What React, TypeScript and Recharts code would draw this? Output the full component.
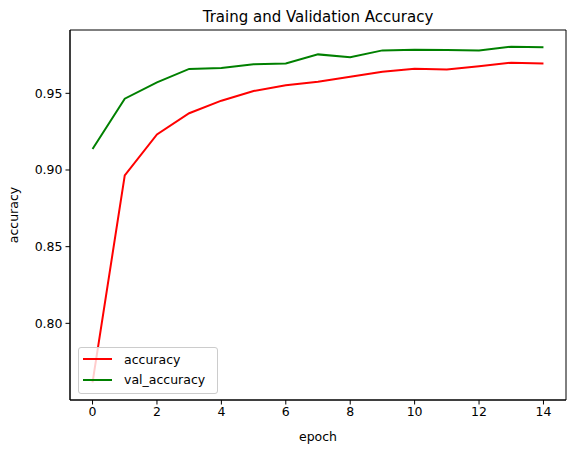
import React from "react";
import { Line, LineChart, ReferenceArea, XAxis, YAxis } from "recharts";

const epochs = [0, 1, 2, 3, 4, 5, 6, 7, 8, 9, 10, 11, 12, 13, 14];
const accuracy = [0.7615, 0.8965, 0.9232, 0.937, 0.9452, 0.9515, 0.9552, 0.9576, 0.9608, 0.9641, 0.966, 0.9656, 0.9676, 0.97, 0.9695];
const valAccuracy = [0.9137, 0.9465, 0.9572, 0.9659, 0.9665, 0.969, 0.9695, 0.9754, 0.9735, 0.978, 0.9784, 0.9782, 0.978, 0.9804, 0.98];
const xTicks = [0, 2, 4, 6, 8, 10, 12, 14];
const yTicks = [0.8, 0.85, 0.9, 0.95];

const X_DOMAIN: [number, number] = [-0.7, 14.7];
const Y_DOMAIN: [number, number] = [0.75, 0.9913];

const FONT = "'DejaVu Sans', sans-serif";
const tickStyle = { fontSize: 12.5, fill: "#000", fontFamily: FONT };

const data = epochs.map((epoch, i) => ({
  epoch,
  accuracy: accuracy[i],
  val_accuracy: valAccuracy[i],
}));

const legendItems = [
  { name: "accuracy", color: "#ff0000" },
  { name: "val_accuracy", color: "#008000" },
];

function LegendBox() {
  return (
    <div
      style={{
        position: "absolute",
        left: 78,
        top: 347,
        width: 140,
        height: 47,
        border: "1px solid #cccccc",
        borderRadius: 3,
        background: "rgba(255,255,255,0.8)",
        boxSizing: "border-box",
        fontFamily: FONT,
        fontSize: 12.5,
        paddingTop: 1,
      }}
    >
      {legendItems.map((it) => (
        <div key={it.name} style={{ display: "flex", alignItems: "center", height: 20.5 }}>
          <span style={{ display: "inline-block", width: 29, height: 2, background: it.color, marginLeft: 4, marginRight: 12 }} />
          <span>{it.name}</span>
        </div>
      ))}
    </div>
  );
}

export default function App() {
  return (
    <div style={{ position: "absolute", left: 0, top: 0, width: 576, height: 453, background: "#fff" }}>
      <div
        style={{
          position: "absolute",
          left: 70,
          width: 496,
          top: 8,
          textAlign: "center",
          fontFamily: FONT,
          fontSize: 15,
        }}
      >
        Traing and Validation Accuracy
      </div>
      <LineChart width={576} height={453} data={data} margin={{ top: 30, right: 10, bottom: 0, left: 0 }}>
        <XAxis
          dataKey="epoch"
          type="number"
          domain={X_DOMAIN}
          ticks={xTicks}
          allowDataOverflow
          height={53}
          tick={tickStyle}
          tickSize={4.5}
          tickMargin={3}
          axisLine={{ stroke: "#000" }}
          tickLine={{ stroke: "#000" }}
          label={{ value: "epoch", position: "insideBottom", offset: 12, style: { fontSize: 12.5, fill: "#000", fontFamily: FONT } }}
        />
        <YAxis
          type="number"
          domain={Y_DOMAIN}
          ticks={yTicks}
          allowDataOverflow
          width={70}
          tick={tickStyle}
          tickSize={4.5}
          tickMargin={3}
          tickFormatter={(v) => v.toFixed(2)}
          axisLine={{ stroke: "#000" }}
          tickLine={{ stroke: "#000" }}
          label={{ value: "accuracy", angle: -90, position: "insideLeft", offset: 14, style: { fontSize: 12.5, fill: "#000", fontFamily: FONT, textAnchor: "middle" } }}
        />
        <ReferenceArea
          x1={X_DOMAIN[0]}
          x2={X_DOMAIN[1]}
          y1={Y_DOMAIN[0]}
          y2={Y_DOMAIN[1]}
          fill="none"
          fillOpacity={0}
          stroke="#000"
          strokeWidth={1}
          ifOverflow="visible"
        />
        <Line type="linear" dataKey="accuracy" stroke="#ff0000" strokeWidth={2} dot={false} isAnimationActive={false} />
        <Line type="linear" dataKey="val_accuracy" stroke="#008000" strokeWidth={2} dot={false} isAnimationActive={false} />
      </LineChart>
      <LegendBox />
    </div>
  );
}
